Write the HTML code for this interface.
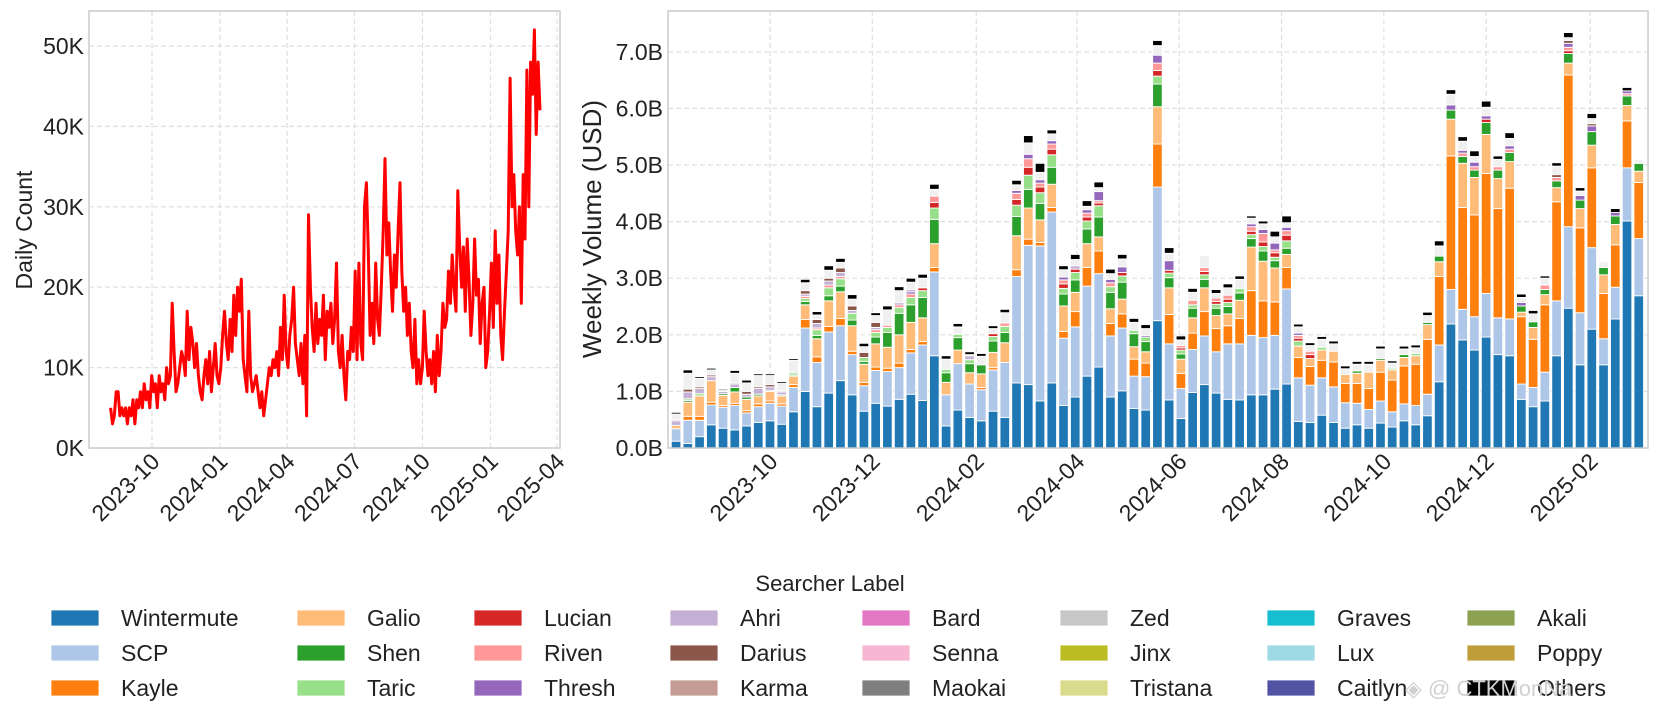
<!DOCTYPE html>
<html><head><meta charset="utf-8"><style>
html,body{margin:0;padding:0;background:#fff}
svg{display:block;font-family:"Liberation Sans",Arial,sans-serif}
</style></head><body>
<svg id="chart" width="1660" height="723" viewBox="0 0 1660 723" xmlns="http://www.w3.org/2000/svg">
<rect width="1660" height="723" fill="#fff"/>
<g id="left"></g>
<g id="right"></g>
<g id="legend"></g>
<text x="1405" y="696" font-size="22" fill="#d0d0d0">◈ @ CTKMonNa</text>
</svg>
<script>
// ---------- LEFT CHART DATA ----------
const dailyStart = "2023-08-06";
const dailyEnd = "2025-03-09";
const dailyCounts = [5,3,4,7,7,4,5,4,5,3,5,4,6,3,6,5,7,5,8,6,7,5,
9,7,8,5,9,7,8,6,10,8,9,18,12,7,8,10,12,11,9,
17,11,15,13,10,13,9,7,6,9,11,8,12,7,10,13,9,8,10,14,17,13,11,16,12,
19,14,20,17,21,11,9,7,17,9,7,8,9,7,5,7,4,6,
8,10,9,11,10,12,9,15,11,19,12,10,14,16,20,13,11,9,
13,8,14,4,29,20,15,12,18,13,16,14,19,11,17,15,18,13,16,
23,12,10,14,9,6,12,11,15,12,22,11,23,13,11,30,33,
25,14,18,13,23,16,14,20,27,36,24,28,22,17,24,20,27,
33,22,17,20,14,18,12,10,16,8,11,8,10,17,12,9,
11,8,12,7,14,9,12,18,15,16,22,18,24,20,17,32,25,
20,25,17,26,21,14,18,26,19,21,13,18,20,
10,12,17,23,15,27,18,24,14,11,17,22,27,46,
30,34,27,24,30,18,34,26,47,30,48,44,52,39,48,42];
const leftYTicks = [0,10,20,30,40,50];
const leftXTicks = ["2023-10","2024-01","2024-04","2024-07","2024-10","2025-01","2025-04"];

// ---------- RIGHT CHART DATA (billions USD, weekly) ----------
const firstWeek = "2023-08-06";
const wintermute=[.12,.08,.2,.41,.35,.32,.39,.45,.48,.42,.64,1.0,.73,.97,1.19,.94,.65,.79,.74,.86,.95,.84,1.63,.39,.67,.54,.48,.65,.54,1.15,1.12,.83,1.15,.75,.9,1.27,1.43,.9,1.01,.7,.67,2.25,.85,.52,.98,1.12,.97,.86,.85,.94,.94,1.04,1.13,.47,.45,.58,.45,.35,.41,.35,.44,.37,.48,.41,.57,1.17,2.19,1.91,1.73,1.96,1.65,1.63,.86,.73,.83,1.63,2.47,1.47,2.1,1.47,2.28,4.01,2.69];
const scp=[.22,.41,.29,.35,.37,.43,.23,.28,.31,.32,.43,1.12,.78,1.08,.97,.71,.45,.58,.61,.56,.73,.98,1.48,.55,.82,.59,.55,.73,.97,1.88,2.46,2.74,3.02,1.19,1.24,1.59,1.65,1.08,1.11,.57,.59,2.36,.99,.53,.76,.86,.73,.98,.99,1.05,1.01,.95,1.68,.77,.66,.66,.63,.45,.38,.33,.39,.27,.3,.34,.38,.65,.61,.54,.59,.77,.65,.65,.27,.34,.51,.97,1.44,.92,1.44,.46,.56,.94,1.01];
const kayle=[0,.07,.07,.05,.03,.04,.04,.05,.04,.04,.05,.15,.1,.1,.13,.06,.06,.06,.06,.08,.06,.06,.08,0,0,0,.04,.04,0,.12,.11,.06,.08,.12,.27,.33,.4,.22,.25,.3,.24,.76,.52,.27,.29,.43,.41,.32,.45,.79,.65,.59,.38,.36,.33,.31,.44,.34,.35,.37,.51,.56,.67,.73,.97,1.21,2.36,1.8,1.8,2.12,1.93,2.31,1.19,.85,1.19,1.75,2.68,1.5,1.41,.8,.75,.83,.99];
const galio=[.06,.25,.36,.38,.18,.2,.2,.14,.17,.14,.15,.26,.32,.45,.47,.45,.32,.41,.37,.5,.48,.42,.42,.22,.24,.2,.24,.27,.35,.6,.55,.4,.41,.45,.34,.42,.25,.26,.26,.22,.2,.66,.47,.25,.27,.42,.23,.21,.32,.77,.7,.6,.23,.2,.14,.18,.19,.16,.18,.29,.21,.18,.15,.15,.26,.26,.65,.78,.66,.69,.53,.47,.08,.21,.18,.25,.21,.34,.4,.33,.36,.27,.2];
const shen=[0,.03,0,0,.03,.08,.04,.03,.02,.02,.02,.06,.06,.09,.1,.1,.05,.12,.26,.38,.31,.36,.43,.17,.22,.16,.16,.2,.18,.34,.33,.29,.3,.21,.22,.26,.35,.29,.3,.23,.18,.4,.18,.09,.17,.15,.13,.13,.13,.15,.18,.13,.11,0,0,0,0,0,.04,0,.03,0,.05,0,.04,.1,.16,.12,.13,.21,.15,.16,.11,.1,.09,.12,.17,.15,.24,.13,.15,.17,.14];
const taric=[0,.03,.04,0,0,0,0,0,0,0,.04,.05,.1,.14,.13,.12,.07,.08,.09,.1,.13,.12,.2,.06,.06,.07,0,.08,.11,.2,.25,.19,.22,.1,.13,.14,.2,.1,.11,.06,.08,.14,.08,.07,.06,.08,.07,.07,.08,.07,.08,.06,.13,.09,0,.05,0,0,0,0,0,.03,0,.04,0,0,0,0,0,0,0,0,0,0,0,0,0,0,0,0,0,0,0];
const lucian=[0,0,0,0,0,0,0,0,0,0,0,0,0,0,0,0,0,0,0,0,0,.05,.1,0,0,0,0,.05,0,.1,.14,.1,.1,.08,.06,.07,.05,0,.06,0,0,.1,.05,.04,0,.06,.05,.06,0,.06,.08,.08,.1,.05,.07,0,0,0,0,0,0,0,0,0,0,0,0,0,0,.06,0,0,0,0,0,0,.05,0,0,0,0,0,0];
const riven=[0,0,0,0,0,0,0,0,0,0,0,.04,.03,.05,.04,0,0,.05,.04,.05,.06,0,.11,0,0,0,0,0,.06,.11,.15,.07,.09,.07,0,.07,.04,.07,0,0,0,.13,0,.04,.08,.07,.06,.07,0,.08,.15,.05,.08,.05,.06,0,0,0,0,0,0,0,0,0,0,0,0,.06,.06,0,.06,.06,0,0,.08,.06,.06,0,0,0,0,.04,0];
const thresh=[0,0,0,0,0,0,0,0,0,0,0,0,0,0,0,0,0,0,0,.03,.04,0,0,0,0,0,0,0,0,.05,.08,.06,.06,.05,0,.06,.16,.06,.1,0,.03,.14,.17,0,0,0,0,0,0,.05,.07,.12,.06,.04,0,0,0,0,0,0,0,0,0,0,0,0,.09,.05,.08,.06,0,.06,.06,0,0,0,.07,.08,.1,0,.06,.05,0];
const ahri=[.08,.12,.09,.07,.04,.06,.05,.1,.06,.05,0,.04,.08,.07,.07,.05,0,.04,0,0,.04,0,0,0,0,.07,0,0,0,0,0,0,0,0,.06,0,0,0,0,0,0,0,0,0,0,0,0,0,0,0,0,0,0,0,0,0,0,0,0,0,0,0,0,0,0,0,0,0,0,0,0,0,0,0,0,0,0,0,0,0,0,0,0];
const darius=[.02,.05,.03,.03,.02,.02,.05,.03,.04,.02,0,.06,.07,.05,.08,.08,.09,.09,0,0,0,0,0,0,0,0,0,0,0,0,0,0,0,0,0,0,0,0,0,0,0,0,0,0,0,0,0,0,0,0,0,0,0,0,0,0,0,0,0,0,0,0,0,0,0,0,0,0,0,0,0,0,0,0,0,.05,.05,0,.04,0,0,0,0];
const minor=[.1,.28,.15,.09,.01,.17,.15,.2,.16,.13,.22,.14,.08,.14,.1,.12,.1,.12,.27,.22,.13,.17,.12,.18,.13,.02,.15,.09,.18,.1,.2,.13,.12,.13,.11,.06,.07,.1,.14,.14,.12,.17,.13,.1,.14,.21,.08,.13,.16,.1,.1,.11,.08,.11,.1,.14,.13,.1,.12,.14,.17,.09,.1,.1,.12,.18,.19,.16,.1,.15,.13,.13,.09,.14,.12,.15,.05,.08,.09,.1,0,0,.07];
const others=[.03,.06,.03,.03,.02,.05,.05,.03,.03,.03,.03,.06,.06,.08,.07,.08,.06,.05,.07,.07,.07,.07,.09,.06,.06,.05,.05,.05,.06,.08,.13,.16,.07,.07,.09,.1,.1,.08,.08,.07,.07,.09,.1,.07,.07,0,.07,.07,.06,.04,.05,.1,.12,.05,.05,.05,.05,.05,.05,.05,.05,.04,.05,.05,.06,.09,.08,.08,.1,.11,.06,.1,.06,.06,.04,.06,.09,.06,.09,0,.07,.06,0];
const rightYTicks = [0,1,2,3,4,5,6,7];
const rightXTicks = ["2023-10","2023-12","2024-02","2024-04","2024-06","2024-08","2024-10","2024-12","2025-02"];

const seriesNames = ["Wintermute","SCP","Kayle","Galio","Shen","Taric","Lucian","Riven","Thresh","Ahri","Darius","Minor","Others"];
const seriesData = [wintermute,scp,kayle,galio,shen,taric,lucian,riven,thresh,ahri,darius,minor,others];
const seriesColors = ["#1f77b4","#aec7e8","#ff7f0e","#ffbb78","#2ca02c","#98df8a","#d62728","#ff9896","#9467bd","#c5b0d5","#8c564b","#f0f0f0","#000000"];

const legendNames = ["Wintermute","SCP","Kayle","Galio","Shen","Taric","Lucian","Riven","Thresh","Ahri","Darius","Karma","Bard","Senna","Maokai","Zed","Jinx","Tristana","Graves","Lux","Caitlyn","Akali","Poppy","Others"];
const legendColors = ["#1f77b4","#aec7e8","#ff7f0e","#ffbb78","#2ca02c","#98df8a","#d62728","#ff9896","#9467bd","#c5b0d5","#8c564b","#c49c94","#e377c2","#f7b6d2","#7f7f7f","#c7c7c7","#bcbd22","#dbdb8d","#17becf","#9edae5","#5254a3","#8ca252","#bd9e39","#000000"];

const NS="http://www.w3.org/2000/svg";
function mk(parent,tag,attrs,text){const e=document.createElementNS(NS,tag);for(const k in attrs)e.setAttribute(k,attrs[k]);if(text!==undefined)e.textContent=text;parent.appendChild(e);return e;}
const DAY=86400000;
function d(s){const p=s.split("-");return Date.UTC(+p[0],+p[1]-1,p[2]?+p[2]:1);}

// ---------- LEFT ----------
const L={x0:89,x1:560,y0:11,y1:448};
const lx=t=>152+(t-d("2023-10-01"))/DAY*0.739;
const ly=v=>448-v*8.04;
const left=document.getElementById("left");
leftYTicks.forEach(v=>{
  const g=mk(left,"line",{x1:L.x0,x2:L.x1,y1:ly(v),y2:ly(v),stroke:"#e0e0e0","stroke-width":1.2,"stroke-dasharray":"5,3"});
  
  
  const t=mk(left,"text",{x:84,y:ly(v)+8,"text-anchor":"end","font-size":23,fill:"#222"},v+"K");
  
  
});
leftXTicks.forEach(s=>{
  const x=lx(d(s));
  const g=mk(left,"line",{x1:x,x2:x,y1:L.y0,y2:L.y1,stroke:"#e0e0e0","stroke-width":1.2,"stroke-dasharray":"5,3"});
  
  
  const t=mk(left,"text",{transform:`translate(${x+9},${463}) rotate(-45)`,"text-anchor":"end","font-size":23,fill:"#222"},s);
  
  
});
const fr=mk(left,"rect",{x:L.x0,y:L.y0,width:L.x1-L.x0,height:L.y1-L.y0,fill:"none",stroke:"#ccc","stroke-width":1.5});


const t0=d(dailyStart),t1=d(dailyEnd);
let pts=dailyCounts.map((v,i)=>{const t=t0+(t1-t0)*i/(dailyCounts.length-1);return lx(t).toFixed(1)+","+ly(v).toFixed(1);}).join(" ");
const line=mk(left,"polyline",{points:pts,fill:"none",stroke:"#ff0000","stroke-width":3,"stroke-linejoin":"round"});


const yl=mk(left,"text",{transform:"translate(32,230) rotate(-90)","text-anchor":"middle","font-size":23,fill:"#222"},"Daily Count");



// ---------- RIGHT ----------
const R={x0:668,x1:1648,y0:11,y1:448};
const rx=t=>770+(t-d("2023-10-01"))/DAY*(11.74/7);
const ry=v=>448-v*56.6;
const right=document.getElementById("right");
rightYTicks.forEach(v=>{
  const g=mk(right,"line",{x1:R.x0,x2:R.x1,y1:ry(v),y2:ry(v),stroke:"#e0e0e0","stroke-width":1.2,"stroke-dasharray":"5,3"});
  
  
  const t=mk(right,"text",{x:663,y:ry(v)+8,"text-anchor":"end","font-size":23,fill:"#222"},v.toFixed(1)+"B");
  
  
});
rightXTicks.forEach(s=>{
  const x=rx(d(s));
  const g=mk(right,"line",{x1:x,x2:x,y1:R.y0,y2:R.y1,stroke:"#e0e0e0","stroke-width":1.2,"stroke-dasharray":"5,3"});
  
  
  const t=mk(right,"text",{transform:`translate(${x+9},${463}) rotate(-45)`,"text-anchor":"end","font-size":23,fill:"#222"},s);
  
  
});
const w0=d(firstWeek);
const bw=9.6;
for(let i=0;i<wintermute.length;i++){
  const cx=rx(w0+i*7*DAY);
  let base=0;
  for(let s=0;s<seriesData.length;s++){
    const v=seriesData[s][i];
    if(!v) continue;
    const r=mk(right,"rect",{x:(cx-bw/2).toFixed(2),y:ry(base+v).toFixed(2),width:bw,height:(v*56.6).toFixed(2),fill:seriesColors[s],stroke:"#fff","stroke-width":0.9});
    
    
    base+=v;
  }
}
const fr2=mk(right,"rect",{x:R.x0,y:R.y0,width:R.x1-R.x0,height:R.y1-R.y0,fill:"none",stroke:"#ccc","stroke-width":1.5});


const yl2=mk(right,"text",{transform:"translate(601,229) rotate(-90)","text-anchor":"middle","font-size":26,fill:"#222"},"Weekly Volume (USD)");



// ---------- LEGEND ----------
const leg=document.getElementById("legend");
const lt=mk(leg,"text",{x:830,y:591,"text-anchor":"middle","font-size":22,fill:"#222"},"Searcher Label");


const colPatch=[51,297,474,670,862,1060,1267,1467];
const rowY=[618,653,688];
legendNames.forEach((n,k)=>{
  const c=Math.floor(k/3),r=k%3;
  const p=mk(leg,"rect",{x:colPatch[c],y:rowY[r]-8,width:48,height:16,fill:legendColors[k],stroke:"#fff","stroke-width":0.8});
  
  
  const t=mk(leg,"text",{x:colPatch[c]+70,y:rowY[r]+8,"font-size":23,fill:"#222"},n);
  
  
});
</script>
</body></html>
